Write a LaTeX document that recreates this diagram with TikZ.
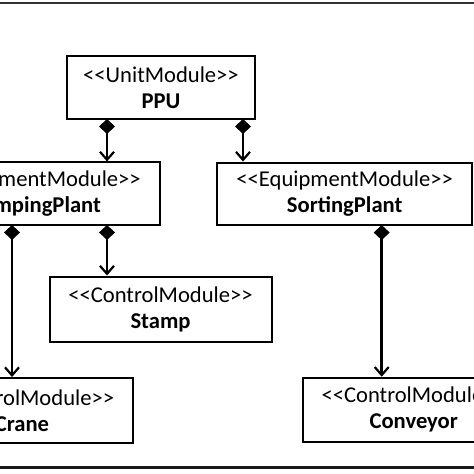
\documentclass[tikz,border=0pt]{standalone}
\usepackage{fontspec}
\setmainfont{Carlito}
\usetikzlibrary{arrows.meta}
\newcommand\opn{<\kern0pt<}
\newcommand\cls{>\kern0pt>}
\tikzset{
  modbox/.style={draw=black, line width=2pt, fill=white, align=center, inner sep=0pt,
    font=\fontsize{22.6}{26}\selectfont},
  comp/.style={line width=2.6pt, {Diamond[length=15pt,width=16pt,line width=0pt]}-{Straight Barb[length=8pt,width=14pt,line width=2.2pt]}, shorten <=-1pt}
}
\begin{document}
\begin{tikzpicture}[x=1pt,y=-1pt]
\useasboundingbox (0,0) rectangle (474,474);
\clip (0,0) rectangle (474,474);
\fill[white] (0,0) rectangle (474,474);
% frame lines
\coordinate (fl) at (0,3);
\coordinate (fr) at (474,3);
\coordinate (bl) at (0,467);
\coordinate (br) at (474,467);
\draw[line width=2pt, black!80] (fl) -- (fr);
\draw[line width=3pt, black!90] (bl) -- (br);
% boxes
\node[modbox, minimum width=188pt, minimum height=63pt] (ppu) at (161,87.5) {\opn UnitModule\cls\\\textbf{PPU}};
\node[modbox, minimum width=255pt, minimum height=62.5pt] (stamping) at (32.5,193.7) {\opn EquipmentModule\cls\\\textbf{StampingPlant}};
\node[modbox, minimum width=255pt, minimum height=62.5pt] (sorting) at (344.7,193.8) {\opn EquipmentModule\cls\\\textbf{SortingPlant}};
\node[modbox, minimum width=222pt, minimum height=65pt] (stamp) at (160.5,309) {\opn ControlModule\cls\\\textbf{Stamp}};
\node[modbox, minimum width=222pt, minimum height=65pt] (crane) at (22,410.5) {\opn ControlModule\cls\\\textbf{Crane}};
\node[modbox, minimum width=222pt, minimum height=64pt] (conveyor) at (413.7,409.7) {\opn ControlModule\cls\\\textbf{Conveyor}};
% connector columns
\coordinate (xa) at (107,0);
\coordinate (xb) at (243,0);
\coordinate (xc) at (12,0);
\coordinate (xd) at (381.7,0);
\draw[comp] (ppu.south -| xa) -- (stamping.north -| xa);
\draw[comp] (ppu.south -| xb) -- (sorting.north -| xb);
\draw[comp] (stamping.south -| xc) -- (crane.north -| xc);
\draw[comp] (stamping.south -| xa) -- (stamp.north -| xa);
\draw[comp] (sorting.south -| xd) -- (conveyor.north -| xd);
\end{tikzpicture}
\end{document}
